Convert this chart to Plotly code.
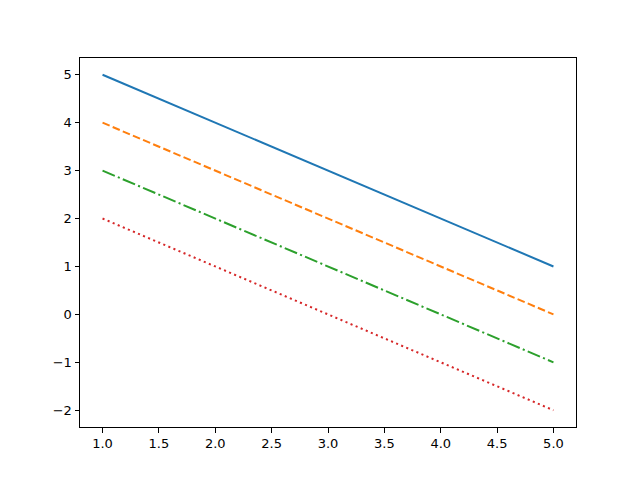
import plotly.graph_objects as go

x_vals = [1, 2, 3, 4, 5]
series_a = [5, 4, 3, 2, 1]
series_b = [4, 3, 2, 1, 0]
series_c = [3, 2, 1, 0, -1]
series_d = [2, 1, 0, -1, -2]

colors = ["#1f77b4", "#ff7f0e", "#2ca02c", "#d62728"]
dashes = ["solid", "7.7px,3.3px", "13.3px,3.3px,2.1px,3.3px", "2.1px,3.4px"]

fig = go.Figure()
for ys, c, d in zip([series_a, series_b, series_c, series_d], colors, dashes):
    fig.add_trace(go.Scatter(x=x_vals, y=ys, mode="lines",
                             line=dict(color=c, width=2, dash=d),
                             showlegend=False))

axis_common = dict(showgrid=False, zeroline=False, showline=True, linecolor="black",
                   linewidth=1, mirror=True, ticks="outside", ticklen=4.5,
                   tickwidth=1, tickcolor="black",
                   tickfont=dict(family="DejaVu Sans", size=13, color="black"))

fig.update_layout(
    width=640, height=480,
    margin=dict(l=72, r=72, t=50, b=61),
    paper_bgcolor="white", plot_bgcolor="white",
    xaxis=dict(range=[0.8, 5.2], tickmode="array",
               tickvals=[1.0, 1.5, 2.0, 2.5, 3.0, 3.5, 4.0, 4.5, 5.0],
               ticktext=["1.0", "1.5", "2.0", "2.5", "3.0", "3.5", "4.0", "4.5", "5.0"],
               **axis_common),
    yaxis=dict(range=[-2.35, 5.35], tickmode="array",
               tickvals=[-2, -1, 0, 1, 2, 3, 4, 5],
               ticktext=["\u22122", "\u22121", "0", "1", "2", "3", "4", "5"],
               **axis_common),
)

fig.write_html("out.html")
